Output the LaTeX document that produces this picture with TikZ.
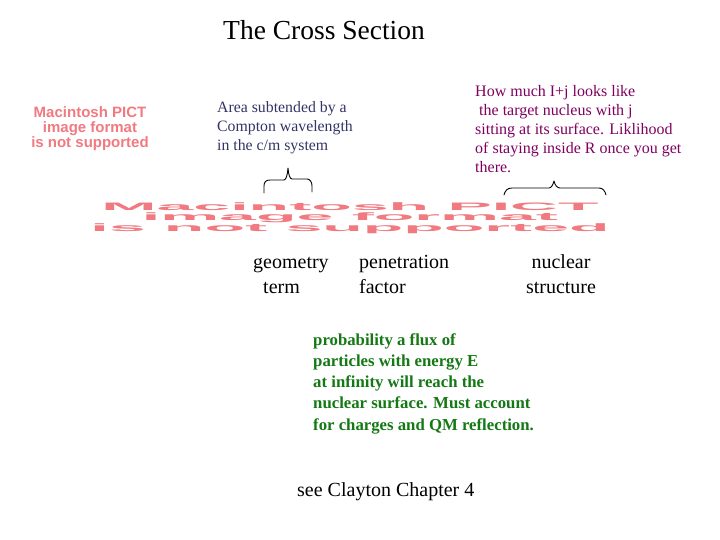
\documentclass[tikz,border=0pt]{standalone}
\usepackage{fontspec}
\setmainfont{Liberation Serif}
\newfontfamily\pictfont{Liberation Sans}
\definecolor{pictred}{RGB}{240,122,128}
\definecolor{areablue}{RGB}{51,51,102}
\definecolor{nucpurple}{RGB}{128,0,96}
\definecolor{probgreen}{RGB}{20,120,20}
\newcommand{\pictmsg}{\pictfont\bfseries\fontsize{15}{13.5}\selectfont\color{pictred}%
  \begin{tabular}{@{}c@{}}Macintosh PICT\\image format\\is not supported\end{tabular}}
\begin{document}
\begin{tikzpicture}[x=1pt,y=-1pt,
  txt/.style={inner sep=0pt, anchor=base west, align=left},
  brace/.style={line width=0.9pt, line join=round, line cap=round}]
\useasboundingbox (0,0) rectangle (720,540);
\node[txt, font=\fontsize{27.5}{30}\selectfont] (title) at (223,40) {The Cross Section};
\node[inner sep=0pt] (pict1) at (90,129) {\pictmsg};
\node[inner sep=0pt] (pict2) at (350,218.5) {\scalebox{4.42}[0.72]{\pictmsg}};
% multi-line nodes: base anchor = baseline of the last line
\node[txt, text=areablue, font=\fontsize{15.8}{19}\selectfont] (area) at (217,151)
  {Area subtended by a\\Compton wavelength\\in the c/m system};
\node[txt, text=nucpurple, font=\fontsize{16}{19}\selectfont] (nuc) at (475,173)
  {How much I+j looks like\\\hspace{4pt}the target nucleus with j\\sitting at its surface. Liklihood\\of staying inside R once you get\\there.};
\node[txt, font=\fontsize{20}{25.5}\selectfont] (geo) at (253,293.5) {geometry\\\hspace{10pt}term};
\node[txt, font=\fontsize{20}{25.5}\selectfont] (pen) at (359,293.5) {penetration\\factor};
\node[inner sep=0pt, anchor=base, align=center, font=\fontsize{20}{25.5}\selectfont] (ns) at (561,293.5) {nuclear\\structure};
\node[txt, text=probgreen, font=\bfseries\fontsize{16.75}{21.25}\selectfont] (prob) at (313,430)
  {probability a flux of\\particles with energy E\\at infinity will reach the\\nuclear surface. Must account\\for charges and QM reflection.};
\node[txt, font=\fontsize{20}{24}\selectfont] (see) at (297,496) {see Clayton Chapter 4};
% braces
\draw[brace] (264,193) -- (264,186) .. controls (264,182) and (266,180) .. (270,180) -- (284,180)
  .. controls (286,180) and (287.5,175) .. (288,168)
  .. controls (288.5,175) and (290,179) .. (292,179) -- (307,179)
  .. controls (310,179) and (312,182) .. (312,186) -- (312,192);
\draw[brace] (504,195) .. controls (505,191) and (507,188) .. (512,188) -- (549,188)
  .. controls (551,188) and (553,185) .. (554,181)
  .. controls (555,185) and (557,188) .. (560,188) -- (599,188)
  .. controls (603,188) and (605,191) .. (606,195);
\end{tikzpicture}
\end{document}
